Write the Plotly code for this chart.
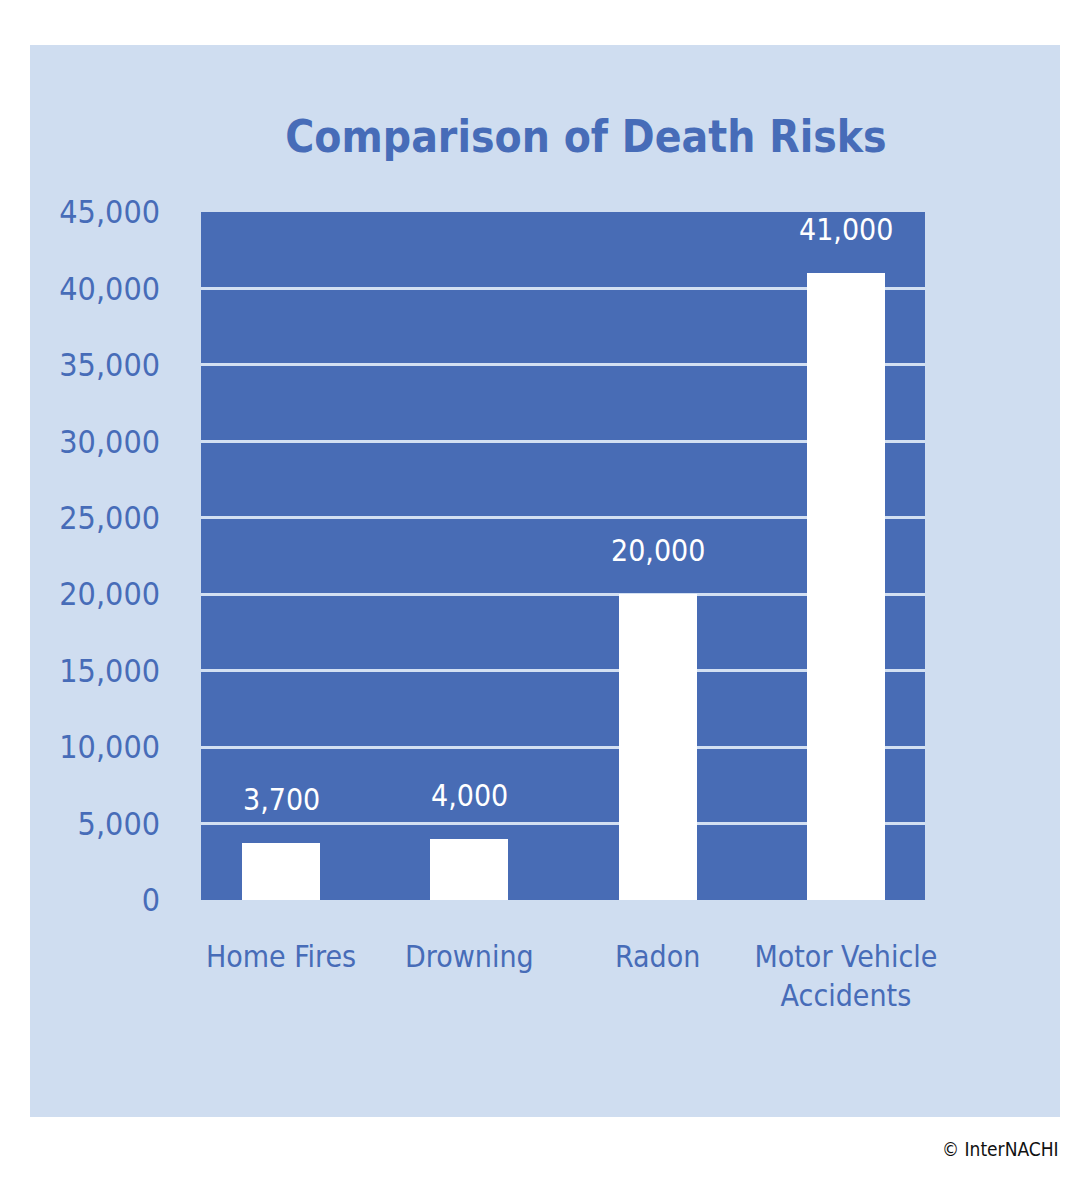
import plotly.graph_objects as go

categories = ["Home Fires", "Drowning", "Radon", "Motor Vehicle<br>Accidents"]
deaths = [3700, 4000, 20000, 41000]
value_labels = ["3,700", "4,000", "20,000", "41,000"]
tick_vals = [0, 5000, 10000, 15000, 20000, 25000, 30000, 35000, 40000, 45000]
tick_text = ["0", "5,000", "10,000", "15,000", "20,000", "25,000", "30,000", "35,000", "40,000", "45,000"]

DARK = "#486CB5"
LIGHT = "#CFDDF0"
TXT = "#476CB8"
NARROW = "DejaVu Sans Condensed, sans-serif"

OFF = 8  # page body margin of the browser
W, H = 1091 - OFF, 1188 - OFF
L, R, T, B = 201 - OFF, 925 - OFF, 212 - OFF, 900 - OFF

def px_x(p):
    return (p - OFF - L) / (R - L)

def px_y(p):
    return (B - (p - OFF)) / (B - T)

fig = go.Figure()
fig.add_trace(go.Bar(
    x=categories, y=deaths, width=0.414,
    marker=dict(color="white", line=dict(width=0)),
    hoverinfo="skip",
))

for c, v, t in zip(categories, deaths, value_labels):
    fig.add_annotation(x=c, y=v, text=t, showarrow=False, yanchor="bottom",
                       yshift=24, font=dict(family=NARROW, size=30, color="white"))

fig.add_annotation(xref="paper", yref="paper", x=px_x(1061), y=px_y(1149),
                   xanchor="right", yanchor="middle", text="© InterNACHI", showarrow=False,
                   font=dict(family=NARROW, size=19, color="#111111"))

fig.add_shape(type="rect", xref="paper", yref="paper", layer="below",
              x0=px_x(30), x1=px_x(1060), y0=px_y(1117), y1=px_y(45),
              fillcolor=LIGHT, line=dict(width=0))
fig.add_shape(type="rect", xref="paper", yref="paper", layer="below",
              x0=0, x1=1, y0=0, y1=1, fillcolor=DARK, line=dict(width=0))

fig.update_layout(
    width=W, height=H,
    margin=dict(l=L, r=W - R, t=T, b=H - B, pad=0),
    paper_bgcolor="white", plot_bgcolor="rgba(0,0,0,0)",
    showlegend=False,
    title=dict(text="<b>Comparison of Death Risks</b>", x=(586 - OFF) / W, xanchor="center",
               y=1 - (137 - OFF) / H, yanchor="middle",
               font=dict(family="DejaVu Sans Condensed, sans-serif", size=44, color=TXT)),
    bargap=0,
)
fig.update_xaxes(type="category", range=[-0.425, 3.42], showgrid=False, zeroline=False,
                 showline=False, ticks="", ticklabelstandoff=36,
                 tickfont=dict(family=NARROW, size=30, color=TXT), fixedrange=True)
fig.update_yaxes(range=[0, 45000], tickvals=tick_vals, ticktext=tick_text,
                 showgrid=True, gridcolor="#D3E0F2", gridwidth=3, zeroline=False,
                 showline=False, ticks="", ticklabelstandoff=40,
                 tickfont=dict(family=NARROW, size=32, color=TXT), fixedrange=True)

fig.write_html("out.html")
